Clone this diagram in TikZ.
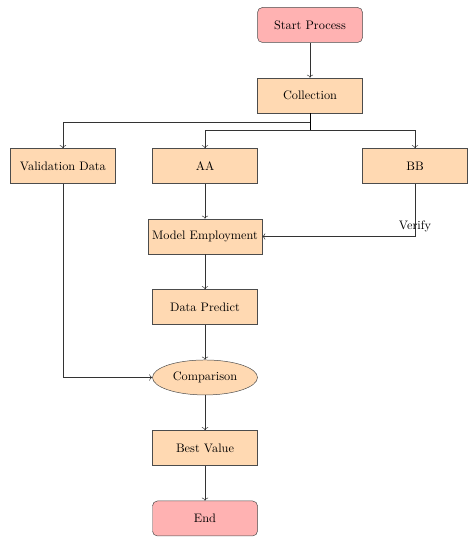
\documentclass[tikz,border=0pt]{standalone}
\usepackage{tikz}
\usetikzlibrary{arrows.meta, positioning, shapes.geometric}

\tikzset{
	startstop/.style={rectangle, rounded corners, minimum width=3cm, minimum height=1cm, draw=black!70, fill=red!30},
	process/.style={rectangle, minimum width=3cm, minimum height=1cm, draw=black!70, fill=orange!30},
	compare/.style={ellipse, minimum width=3cm, minimum height=1cm, draw=black!70, fill=orange!30},
	flow/.style={->, draw=black!80}
}

\begin{document}
\begin{tikzpicture}[node distance=1cm]
				\useasboundingbox (-8.857,0.714) rectangle (4.686,-14.771);

				\node[startstop] (start) {Start Process};
				\node[process, below=of start] (collect) {Collection};

				\node[process, below=of collect, xshift=-3cm] (aa) {AA};
				\node[process, below=of collect, xshift=3cm] (bb) {BB};
				\node[process, below=of collect, xshift=-7.06cm] (valid) {Validation Data};

				\node[process, below=of aa] (model) {Model Employment};
				\node[process, below=of model] (predict) {Data Predict};
				\node[compare, below=of predict] (comp) {Comparison};
				\node[process, below=of comp] (best) {Best Value};
				\node[startstop, below=of best] (end) {End};

				% split below collection
				\coordinate[below=0.25cm of collect] (splitA);
				\coordinate[below=0.49cm of collect] (splitB);

				\draw[flow] (start) -- (collect);
				\draw (collect) -- (splitB);
				\draw[flow] (splitA) -| (valid);
				\draw[flow] (splitB) -| (aa);
				\draw[flow] (splitB) -| (bb);

				\draw[flow] (bb) |- node[pos=0.5, above] {Verify} (model);
				\draw[flow] (aa) -- (model);
				\draw[flow] (model) -- (predict);
				\draw[flow] (predict) -- (comp);
				\draw[flow] (valid) |- (comp);
				\draw[flow] (comp) -- (best);
				\draw[flow] (best) -- (end);

\end{tikzpicture}
\end{document}
